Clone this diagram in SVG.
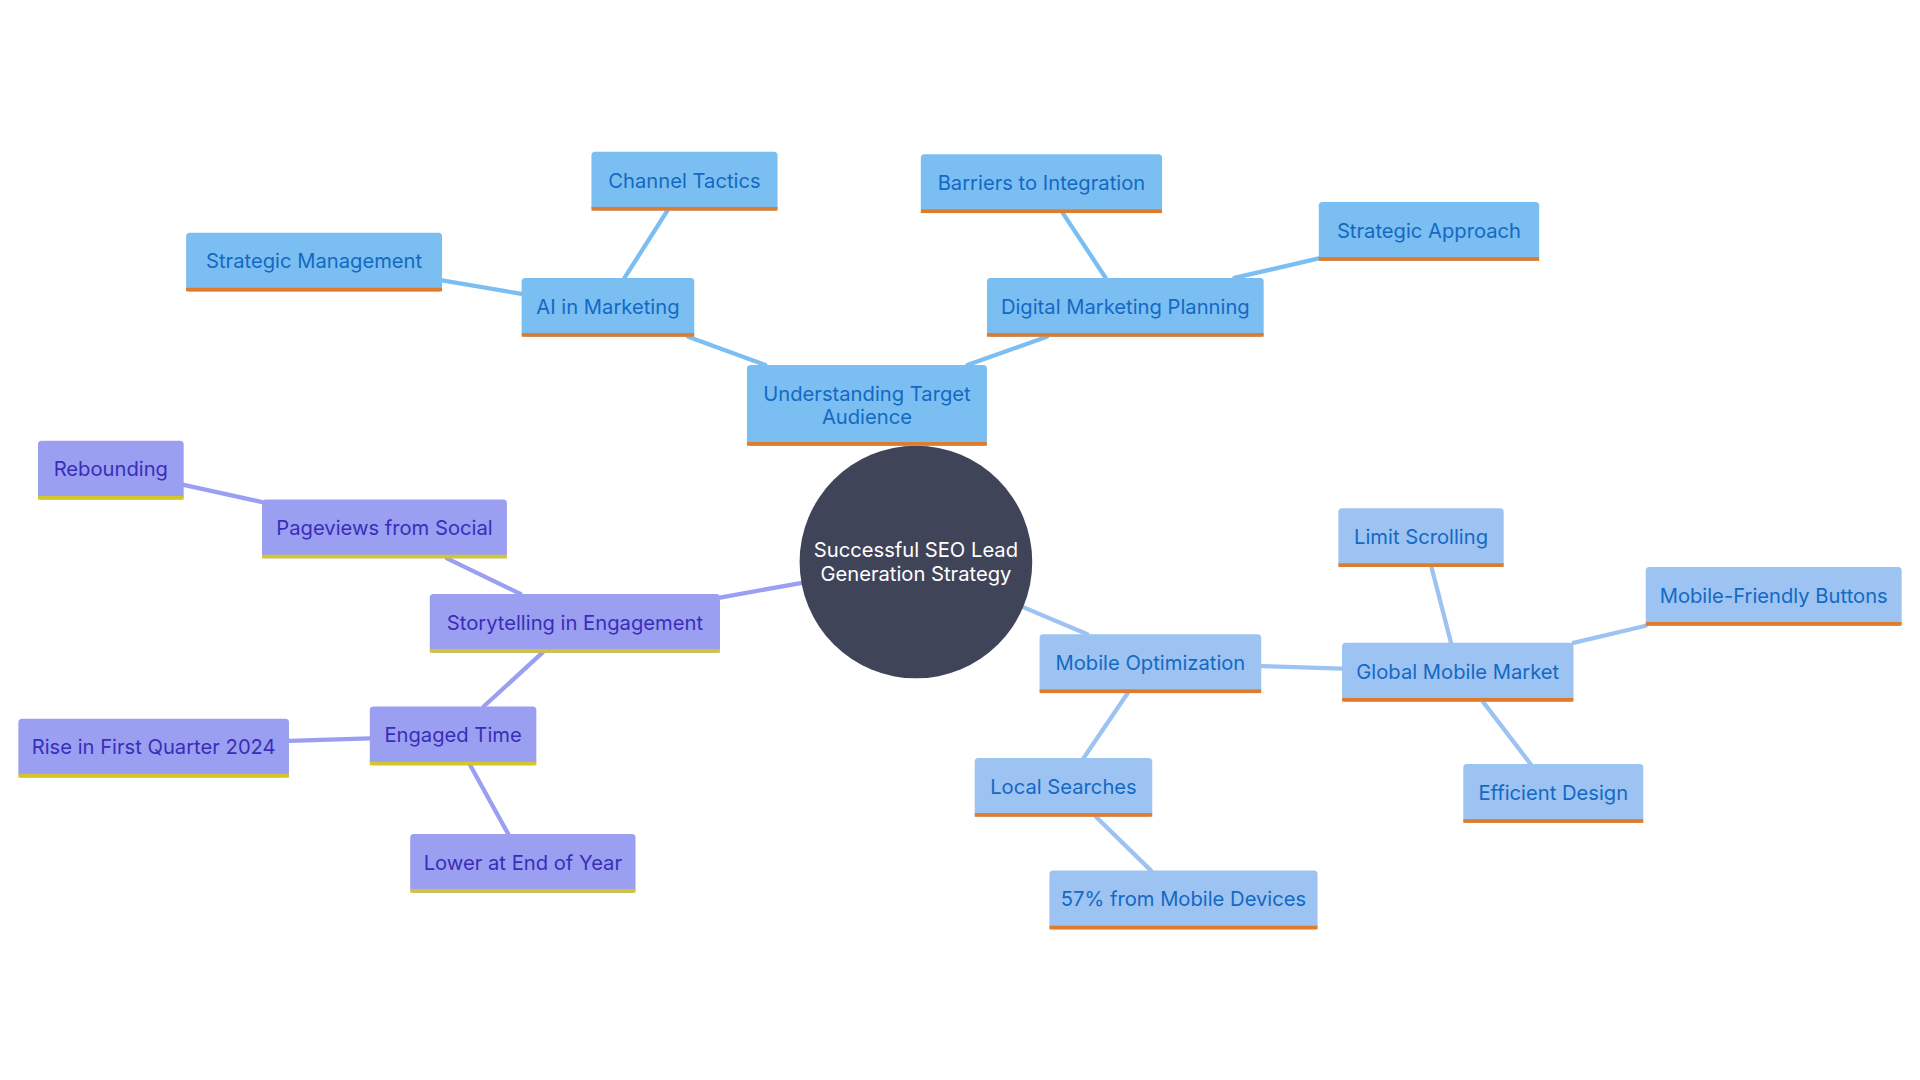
<svg xmlns="http://www.w3.org/2000/svg" width="1920" height="1080" viewBox="0 0 1920 1080">
<style>
.b1 rect.f{fill:#7bbef1}.b1 text{fill:#1469c4}
.b2 rect.f{fill:#9a9ff2}.b2 text{fill:#3a2db8}
.b3 rect.f{fill:#9cc3f1}.b3 text{fill:#1469c4}
.o{fill:#e07b2a}.y{fill:#d3c62c}
text{font-family:Inter,"Open Sans",sans-serif;font-size:16.5px;text-anchor:middle;dominant-baseline:central}
.e1{stroke:#7bbef1}.e2{stroke:#9a9ff2}.e3{stroke:#9cc3f1}
#edges line{stroke-width:3.5;stroke-linecap:round}
</style>
<rect width="1920" height="1080" fill="#fff"/>
<g transform="scale(1.2245)">
<g id="edges">
<line class="e1" x1="625" y1="298" x2="562" y2="275"/>
<line class="e1" x1="510" y1="227" x2="545" y2="172"/>
<line class="e1" x1="426" y1="240" x2="361" y2="229"/>
<line class="e1" x1="790" y1="298" x2="855" y2="275"/>
<line class="e1" x1="903" y1="227" x2="868" y2="174"/>
<line class="e1" x1="1008" y1="227" x2="1077" y2="211"/>
<line class="e2" x1="655" y1="476" x2="588" y2="488"/>
<line class="e2" x1="425" y1="485" x2="365" y2="456"/>
<line class="e2" x1="214" y1="410" x2="150" y2="396"/>
<line class="e2" x1="443" y1="533" x2="395" y2="577"/>
<line class="e2" x1="302" y1="603" x2="236" y2="605"/>
<line class="e2" x1="384" y1="625" x2="415" y2="681"/>
<line class="e3" x1="836" y1="496" x2="888" y2="518"/>
<line class="e3" x1="1030" y1="544" x2="1096" y2="546"/>
<line class="e3" x1="1185" y1="525" x2="1169" y2="463"/>
<line class="e3" x1="1285" y1="525" x2="1344" y2="511"/>
<line class="e3" x1="1211" y1="573" x2="1250" y2="624"/>
<line class="e3" x1="921" y1="566" x2="885" y2="619"/>
<line class="e3" x1="895" y1="667" x2="940" y2="711"/>
</g>
<g id="center"><circle cx="748" cy="459" r="95" fill="#3f4459"/><text x="748" y="449" fill="#fff">Successful SEO Lead</text><text x="748" y="468" fill="#fff">Generation Strategy</text></g>
<g id="uta" class="b1"><rect class="f" x="610" y="298" width="196" height="66" rx="3"/><rect class="o" x="610" y="361" width="196" height="3"/><text x="708" y="321">Understanding Target</text><text x="708" y="340">Audience</text></g>
<g id="ai" class="b1"><rect class="f" x="426" y="227" width="141" height="48" rx="3"/><rect class="o" x="426" y="272" width="141" height="3"/><text x="496.5" y="250">AI in Marketing</text></g>
<g id="ct" class="b1"><rect class="f" x="483" y="124" width="152" height="48" rx="3"/><rect class="o" x="483" y="169" width="152" height="3"/><text x="559" y="147">Channel Tactics</text></g>
<g id="sm" class="b1"><rect class="f" x="152" y="190" width="209" height="48" rx="3"/><rect class="o" x="152" y="235" width="209" height="3"/><text x="256.5" y="213">Strategic Management</text></g>
<g id="dmp" class="b1"><rect class="f" x="806" y="227" width="226" height="48" rx="3"/><rect class="o" x="806" y="272" width="226" height="3"/><text x="919" y="250">Digital Marketing Planning</text></g>
<g id="bti" class="b1"><rect class="f" x="752" y="126" width="197" height="48" rx="3"/><rect class="o" x="752" y="171" width="197" height="3"/><text x="850.5" y="149">Barriers to Integration</text></g>
<g id="sa" class="b1"><rect class="f" x="1077" y="165" width="180" height="48" rx="3"/><rect class="o" x="1077" y="210" width="180" height="3"/><text x="1167" y="188">Strategic Approach</text></g>
<g id="sie" class="b2"><rect class="f" x="351" y="485" width="237" height="48" rx="3"/><rect class="y" x="351" y="530" width="237" height="3"/><text x="469.5" y="508">Storytelling in Engagement</text></g>
<g id="pfs" class="b2"><rect class="f" x="214" y="408" width="200" height="48" rx="3"/><rect class="y" x="214" y="453" width="200" height="3"/><text x="314" y="431">Pageviews from Social</text></g>
<g id="reb" class="b2"><rect class="f" x="31" y="360" width="119" height="48" rx="3"/><rect class="y" x="31" y="405" width="119" height="3"/><text x="90.5" y="383">Rebounding</text></g>
<g id="et" class="b2"><rect class="f" x="302" y="577" width="136" height="48" rx="3"/><rect class="y" x="302" y="622" width="136" height="3"/><text x="370" y="600">Engaged Time</text></g>
<g id="rfq" class="b2"><rect class="f" x="15" y="587" width="221" height="48" rx="3"/><rect class="y" x="15" y="632" width="221" height="3"/><text x="125.5" y="610">Rise in First Quarter 2024</text></g>
<g id="leoy" class="b2"><rect class="f" x="335" y="681" width="184" height="48" rx="3"/><rect class="y" x="335" y="726" width="184" height="3"/><text x="427" y="704">Lower at End of Year</text></g>
<g id="mo" class="b3"><rect class="f" x="849" y="518" width="181" height="48" rx="3"/><rect class="o" x="849" y="563" width="181" height="3"/><text x="939.5" y="541">Mobile Optimization</text></g>
<g id="gmm" class="b3"><rect class="f" x="1096" y="525" width="189" height="48" rx="3"/><rect class="o" x="1096" y="570" width="189" height="3"/><text x="1190.5" y="548">Global Mobile Market</text></g>
<g id="ls" class="b3"><rect class="f" x="1093" y="415" width="135" height="48" rx="3"/><rect class="o" x="1093" y="460" width="135" height="3"/><text x="1160.5" y="438">Limit Scrolling</text></g>
<g id="mfb" class="b3"><rect class="f" x="1344" y="463" width="209" height="48" rx="3"/><rect class="o" x="1344" y="508" width="209" height="3"/><text x="1448.5" y="486">Mobile-Friendly Buttons</text></g>
<g id="ed" class="b3"><rect class="f" x="1195" y="624" width="147" height="48" rx="3"/><rect class="o" x="1195" y="669" width="147" height="3"/><text x="1268.5" y="647">Efficient Design</text></g>
<g id="lsr" class="b3"><rect class="f" x="796" y="619" width="145" height="48" rx="3"/><rect class="o" x="796" y="664" width="145" height="3"/><text x="868.5" y="642">Local Searches</text></g>
<g id="p57" class="b3"><rect class="f" x="857" y="711" width="219" height="48" rx="3"/><rect class="o" x="857" y="756" width="219" height="3"/><text x="966.5" y="734">57% from Mobile Devices</text></g>
</g>
</svg>
